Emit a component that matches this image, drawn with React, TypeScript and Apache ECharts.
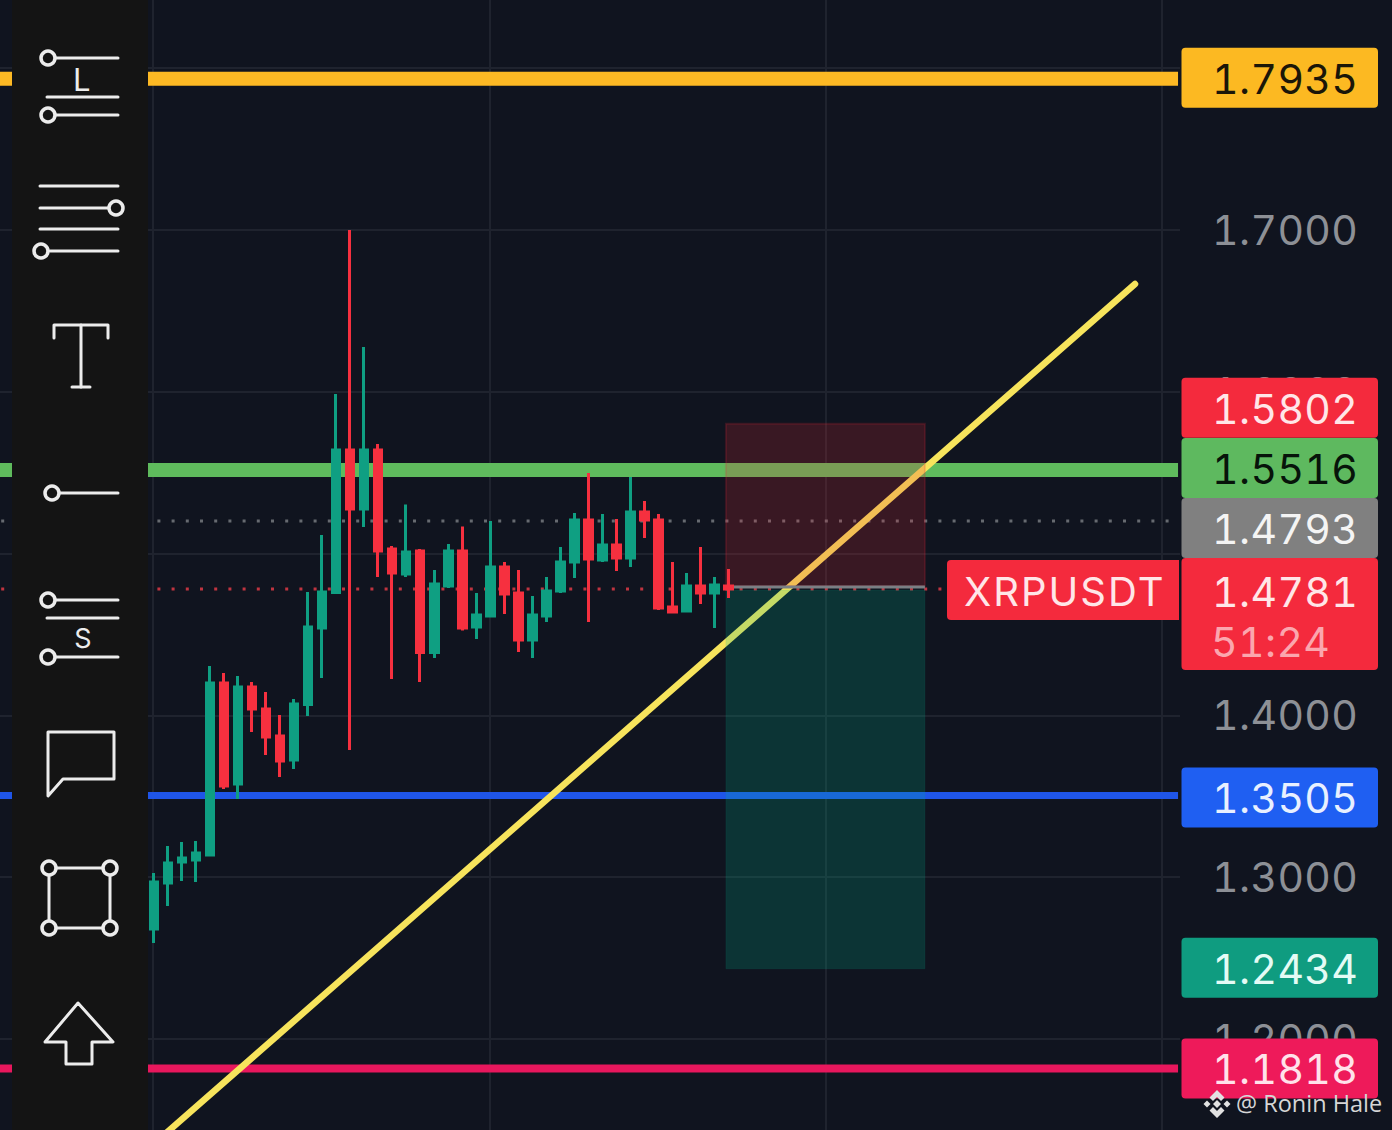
import React, { useEffect, useRef } from "react";
import * as echarts from "echarts";

// ---------- data ----------
const candleOpen = [1.2680,1.2964,1.3094,1.3106,1.3137,1.4200,1.3576,1.4176,1.4040,1.3873,1.3724,1.4067,1.4540,1.4759,1.5640,1.5276,1.5640,1.5028,1.4874,1.5016,1.4388,1.4800,1.5016,1.4546,1.4614,1.4917,1.4757,1.4466,1.4614,1.4769,1.4948,1.5208,1.4960,1.5053,1.4973,1.5257,1.5208,1.4670,1.4645,1.4800,1.4757,1.4800];
const candleClose = [1.2970,1.3088,1.3119,1.3150,1.4200,1.3564,1.4176,1.4040,1.3866,1.3718,1.4070,1.4546,1.4763,1.5640,1.5276,1.5640,1.5016,1.4880,1.5010,1.4388,1.4812,1.5016,1.4540,1.4620,1.4917,1.4750,1.4466,1.4620,1.4769,1.4948,1.5208,1.4967,1.5053,1.4973,1.5257,1.5208,1.4664,1.4639,1.4800,1.4757,1.4806,1.4781];
const candleLow = [1.2593,1.2822,1.2977,1.2970,1.3137,1.3545,1.3483,1.3897,1.3755,1.3619,1.3669,1.3996,1.4231,1.4759,1.3786,1.5164,1.4855,1.4225,1.4855,1.4206,1.4355,1.4787,1.4525,1.4472,1.4614,1.4627,1.4392,1.4355,1.4577,1.4757,1.4849,1.4577,1.4948,1.4892,1.4917,1.5096,1.4651,1.4633,1.4639,1.4689,1.4540,1.4726];
const candleHigh = [1.3026,1.3193,1.3218,1.3224,1.4305,1.4262,1.4244,1.4206,1.4145,1.4002,1.4101,1.4763,1.5115,1.5986,1.7000,1.6277,1.5677,1.5047,1.5303,1.5028,1.4899,1.5059,1.5168,1.4757,1.5202,1.4948,1.4899,1.4738,1.4855,1.5041,1.5251,1.5498,1.5245,1.5214,1.5473,1.5325,1.5245,1.4948,1.4880,1.5041,1.4855,1.4905];

const resistanceLevel = 1.7935;
const stopLevel = 1.5516;
const dottedGrayLevel = 1.5201;
const lastPriceLevel = 1.4781;
const supportLevel = 1.3505;
const lowLevel = 1.1818;

const tagValues = [1.7935, 1.5802, 1.5516, 1.4793, 1.4781, 1.3505, 1.2434, 1.1818];
const tagLabels = ["1.7935", "1.5802", "1.5516", "1.4793", "1.4781", "1.3505", "1.2434", "1.1818"];
const countdownLabel = "51:24";
const symbolLabel = "XRPUSDT";
const watermarkLabel = "@ Ronin Hale";

const trendStart = [0.38, 1.1376];
const trendEnd = [70.07, 1.6666];

const boxFrom = 40.88;
const boxTo = 55.08;
const boxStopTop = 1.5802;
const boxStopBottom = 1.48;
const boxEntry = 1.4793;
const boxTargetTop = 1.4775;
const boxTargetBottom = 1.2434;

// ---------- styles ----------
const FONT = "Inter";
const BG = "#10141f";
const BAR = "#141414";
const ICON = "#ececec";
const UP = "#0f9f82";
const DOWN = "#f6303f";
const GRID = "#1f232e";

const TAG_X = 1181.5;
const TAG_W = 196.5;
const TAG_TEXT_X = 1212;
const tagStyle = [
  { bg: "#fcb922", fg: "#1b1608", dy: -1, h: 60 },
  { bg: "#f42a3d", fg: "#ffe6e8", dy: -16, h: 60 },
  { bg: "#5eb95f", fg: "#07140a", dy: -2, h: 60 },
  { bg: "#808080", fg: "#f4f4f4", dy: -59, h: 60 },
  { bg: "#f42a3d", fg: "#ffe6e8", dy: 2, h: 60 },
  { bg: "#1f5ff2", fg: "#e8f0ff", dy: 2, h: 60 },
  { bg: "#0f9c80", fg: "#e4fbf5", dy: -1, h: 60 },
  { bg: "#ee1a5a", fg: "#ffe2ea", dy: 0, h: 60 },
];

const X_MIN = -24;
const X_MAX = 73.28;
const LEVEL_END = 73.14;
const CANDLE_SHIFT = 0.07;

function levelSeries(value: number, color: string, width: number, type: any, z: number) {
  return {
    type: "line",
    silent: true,
    z,
    symbol: "none",
    data: [[X_MIN, value], [LEVEL_END, value]],
    lineStyle: { color, width, type, cap: "butt" },
  };
}

function ln(x1: number, y1: number, x2: number, y2: number) {
  return { type: "line", z: 101, silent: true, shape: { x1, y1, x2, y2 }, style: { stroke: ICON, lineWidth: 3, lineCap: "round" } };
}
function ring(cx: number, cy: number) {
  return { type: "circle", z: 102, silent: true, shape: { cx, cy, r: 7 }, style: { stroke: ICON, lineWidth: 3.5, fill: "#141414" } };
}
function poly(points: number[][], closed = true) {
  return {
    type: closed ? "polygon" : "polyline",
    z: 101,
    silent: true,
    shape: { points },
    style: { stroke: ICON, lineWidth: 3, fill: closed ? "#141414" : undefined, lineJoin: "round", lineCap: "round" },
  };
}
function iconLetter(text: string, x: number, y: number, size: number) {
  return {
    type: "text",
    z: 102,
    silent: true,
    style: { text, x, y, fill: ICON, fontFamily: FONT, fontSize: size, align: "center", verticalAlign: "middle" },
  };
}
function mark(points: number[][]) {
  return { type: "polygon", z: 103, silent: true, shape: { points }, style: { fill: "#e2e2e2" } };
}

const toolbar: any[] = [
  { type: "rect", z: 100, silent: true, shape: { x: 12, y: 0, width: 136, height: 1130 }, style: { fill: BAR } },
  // L
  ln(56, 58, 118, 58), ring(48, 58), iconLetter("L", 82, 79, 31), ln(47, 97, 118, 97), ln(56, 115, 118, 115), ring(48, 115),
  // parallel lines
  ln(40, 186, 118, 186), ln(40, 208, 108, 208), ring(116, 208), ln(40, 229, 118, 229), ln(50, 251, 118, 251), ring(41, 251),
  // T
  poly([[54, 338], [54, 325], [108, 325], [108, 338]], false), ln(81, 325, 81, 387), ln(72, 387, 90, 387),
  // ray
  ln(60, 493, 118, 493), ring(52, 493),
  // S
  ln(56, 600, 118, 600), ring(48, 600), ln(47, 618, 118, 618), iconLetter("S", 83, 638, 27), ln(56, 657, 118, 657), ring(48, 657),
  // bubble
  poly([[48, 732], [114, 732], [114, 779], [63, 779], [48, 796]]),
  // rectangle
  ln(49, 868, 110, 868), ln(49, 928, 110, 928), ln(49, 868, 49, 928), ln(110, 868, 110, 928),
  ring(49, 868), ring(110, 868), ring(49, 928), ring(110, 928),
  // arrow
  poly([[78, 1003], [113, 1042], [92, 1042], [92, 1064], [66, 1064], [66, 1042], [45, 1042]]),
  // watermark
  mark([[1217, 1090], [1224.5, 1097.5], [1221, 1101], [1217, 1097], [1213, 1101], [1209.5, 1097.5]]),
  mark([[1217, 1118], [1209.5, 1110.5], [1213, 1107], [1217, 1111], [1221, 1107], [1224.5, 1110.5]]),
  mark([[1217, 1100], [1221, 1104], [1217, 1108], [1213, 1104]]),
  mark([[1207, 1100.5], [1210.5, 1104], [1207, 1107.5], [1203.5, 1104]]),
  mark([[1227, 1100.5], [1230.5, 1104], [1227, 1107.5], [1223.5, 1104]]),
  {
    type: "text",
    z: 103,
    silent: true,
    style: { text: watermarkLabel, x: 1236, y: 1103, fill: "#d6d6d6", fontFamily: "Open Sans", fontSize: 23.5, verticalAlign: "middle" },
  },
];

function renderTag(params: any, api: any) {
  const i = params.dataIndex;
  const s = tagStyle[i];
  const y = api.coord([0, api.value(1)])[1] + s.dy;
  const kids: any[] = [];
  const isLast = tagLabels[i] === "1.4781";
  if (isLast) {
    kids.push({ type: "rect", shape: { x: 947, y: y - 31, width: 232, height: 60, r: [4, 0, 0, 4] }, style: { fill: s.bg } });
    kids.push({ type: "text", style: { text: symbolLabel, x: 964, y, fill: s.fg, fontFamily: FONT, fontSize: 40, verticalAlign: "middle" } });
  }
  const top = y - 33;
  kids.push({ type: "rect", shape: { x: TAG_X, y: isLast ? top : y - s.h / 2, width: TAG_W, height: isLast ? 112 : s.h, r: 4 }, style: { fill: s.bg } });
  kids.push({ type: "text", style: { text: tagLabels[i], x: TAG_TEXT_X, y: y + 1, fill: s.fg, fontFamily: FONT, fontSize: 41, verticalAlign: "middle" } });
  if (isLast) {
    kids.push({ type: "text", style: { text: countdownLabel, x: TAG_TEXT_X - 1, y: y + 51, fill: "#fba6ae", fontFamily: FONT, fontSize: 41, verticalAlign: "middle" } });
  }
  return { type: "group", children: kids };
}

const textCss = `
  .xrp-chart svg text { letter-spacing: 0.4px; font-variant-numeric: tabular-nums !important; font-feature-settings: "tnum" 1 !important; }
  .xrp-chart svg text[style*="40px"] { letter-spacing: 2px; }
  .xrp-chart svg text[style*="Open Sans"] { letter-spacing: 0; }
`;

export default function App() {
  const ref = useRef<HTMLDivElement>(null);
  useEffect(() => {
    document.body.style.margin = "0";
    document.body.style.background = BG;
    const chart = echarts.init(ref.current!, undefined, { renderer: "svg" });
    const candles = candleOpen.map((o, i) => [i + CANDLE_SHIFT, o, candleClose[i], candleLow[i], candleHigh[i]]);
    chart.setOption({
      animation: false,
      backgroundColor: BG,
      grid: { left: -183.4, top: -93.6, width: 1363.4, height: 1294.4, containLabel: false, outerBoundsMode: "none" },
      xAxis: {
        type: "value",
        min: X_MIN,
        max: X_MAX,
        interval: 24,
        axisLine: { show: false },
        axisTick: { show: false },
        axisLabel: { show: false },
        splitLine: { show: true, showMaxLine: false, lineStyle: { color: GRID, width: 2 } },
      },
      yAxis: {
        type: "value",
        position: "right",
        min: 1.1,
        max: 1.9,
        interval: 0.1,
        axisLine: { show: false },
        axisTick: { show: false },
        splitLine: { show: true, lineStyle: { color: GRID, width: 2 } },
        axisLabel: {
          margin: 32,
          color: "#8d9096",
          fontFamily: FONT,
          fontSize: 41,
          showMinLabel: false,
          showMaxLabel: false,
          formatter: (v: number) => v.toFixed(4),
        },
      },
      graphic: { elements: toolbar },
      series: [
        levelSeries(dottedGrayLevel, "#666a70", 3, [3, 11.2], 1),
        levelSeries(lastPriceLevel, "#c03440", 3, [3, 11.2], 1),
        levelSeries(resistanceLevel, "#fdb924", 14, "solid", 1),
        levelSeries(stopLevel, "#5fbb5d", 14, "solid", 1),
        levelSeries(supportLevel, "#1f55e8", 7, "solid", 1),
        levelSeries(lowLevel, "#e8175d", 8, "solid", 1),
        {
          type: "line",
          silent: true,
          z: 2,
          symbol: "none",
          data: [trendStart, trendEnd],
          lineStyle: { color: "#f7e45c", width: 6.5, cap: "round" },
        },
        {
          type: "line",
          silent: true,
          z: 3,
          symbol: "none",
          data: [[boxFrom, boxEntry], [boxTo, boxEntry]],
          lineStyle: { color: "#7a7f84", width: 3, cap: "butt" },
          markArea: {
            silent: true,
            z: 3,
            data: [
              [
                { coord: [boxFrom, boxStopTop], itemStyle: { color: "rgba(226,40,56,0.2)", borderColor: "rgba(226,40,56,0.18)", borderWidth: 2 } },
                { coord: [boxTo, boxStopBottom] },
              ],
              [
                { coord: [boxFrom, boxTargetTop], itemStyle: { color: "rgba(0,180,146,0.2)", borderColor: "rgba(0,180,146,0.1)", borderWidth: 1 } },
                { coord: [boxTo, boxTargetBottom] },
              ],
            ],
          },
        },
        {
          type: "candlestick",
          silent: true,
          z: 4,
          barWidth: 8,
          encode: { x: 0, y: [1, 2, 3, 4] },
          data: candles,
          itemStyle: {
            color: UP,
            color0: DOWN,
            borderColor: UP,
            borderColor0: DOWN,
            borderColorDoji: DOWN,
            borderWidth: 3,
          },
        },
        {
          type: "custom",
          silent: true,
          z: 10,
          renderItem: renderTag,
          encode: { x: 0, y: 1 },
          data: tagValues.map((v) => [0, v]),
        },
      ],
    });
    return () => chart.dispose();
  }, []);
  return (
    <>
      <style>{textCss}</style>
      <div className="xrp-chart" ref={ref} style={{ position: "fixed", left: 0, top: 0, width: 1392, height: 1130 }} />
    </>
  );
}
